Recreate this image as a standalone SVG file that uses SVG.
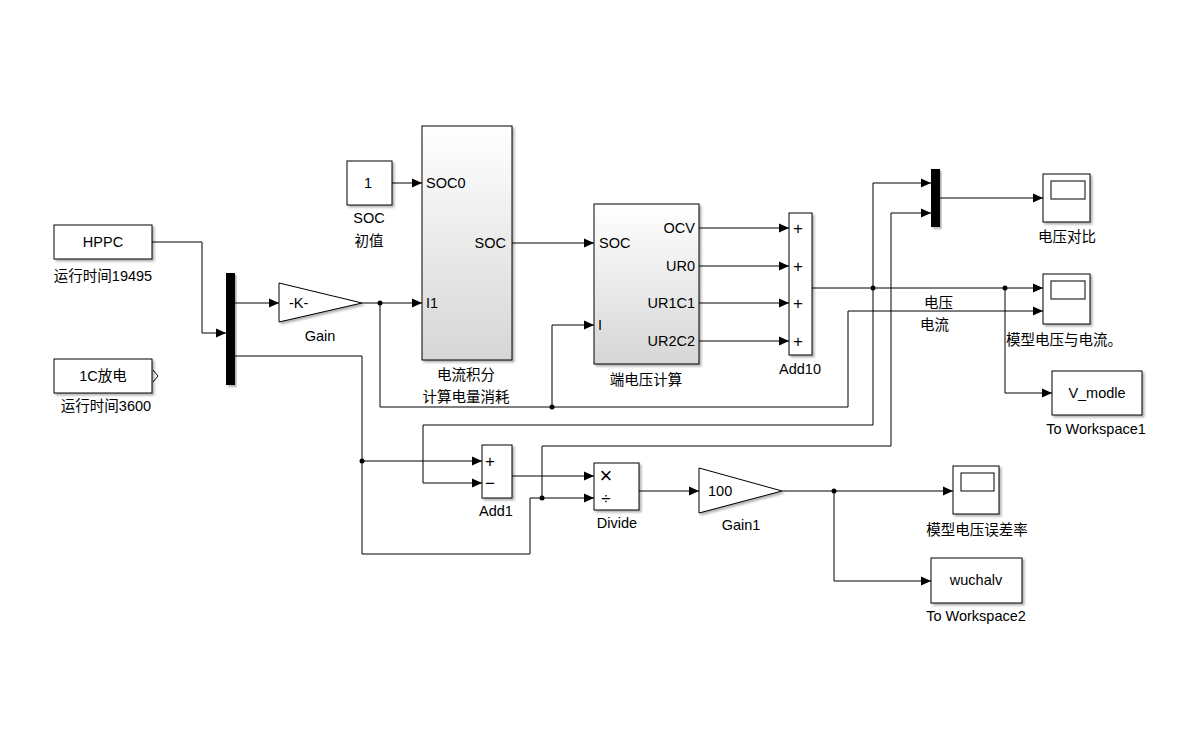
<svg xmlns="http://www.w3.org/2000/svg" width="1187" height="742" viewBox="0 0 1187 742">
<defs>
<marker id="arr" markerUnits="userSpaceOnUse" markerWidth="11" markerHeight="10" refX="10" refY="5" orient="auto">
<path d="M0,0.5 L10,5 L0,9.5 z" fill="#000"/>
</marker>
<linearGradient id="sub" x1="0" y1="0" x2="0" y2="1">
<stop offset="0" stop-color="#ffffff"/>
<stop offset="1" stop-color="#d6d6d6"/>
</linearGradient>
<filter id="sh" x="-10%" y="-10%" width="130%" height="130%">
<feDropShadow dx="2" dy="2" stdDeviation="1" flood-color="#000" flood-opacity="0.3"/>
</filter>
</defs>
<style>
.blk{fill:#fff;stroke:#000;stroke-width:1;filter:url(#sh)}
.sub{fill:url(#sub);stroke:#000;stroke-width:1;filter:url(#sh)}
.bar{fill:#000;filter:url(#sh)}
.w{fill:none;stroke:#000;stroke-width:1}
.a{marker-end:url(#arr)}
.dot{fill:#000}
text{font-family:"Liberation Sans","Noto Sans CJK SC",Arial,sans-serif;font-size:14.5px;fill:#000}
.c{text-anchor:middle}
.r{text-anchor:end}
.sym{font-size:17px}
</style>
<rect width="1187" height="742" fill="#fff"/>

<g id="connectors">
<polyline class="w a" points="152,242 202,242 202,333 226,333"/>
<polyline class="w a" points="235,303 279,303"/>
<polyline class="w" points="235,356 362,356 362,554 530,554 530,498 542,498"/>
<polyline class="w a" points="362,461 482,461"/>
<polyline class="w a" points="542,498 594,498"/>
<polyline class="w a" points="542,498 542,446 891,446 891,213 931,213"/>
<polyline class="w a" points="392,183 422,183"/>
<polyline class="w a" points="362,303 422,303"/>
<polyline class="w a" points="380,303 380,407 848,407 848,311 1043,311"/>
<polyline class="w a" points="552,407 552,325 594,325"/>
<polyline class="w a" points="512,243 594,243"/>
<polyline class="w a" points="699,228 789,228"/>
<polyline class="w a" points="699,266 789,266"/>
<polyline class="w a" points="699,303 789,303"/>
<polyline class="w a" points="699,341 789,341"/>
<polyline class="w a" points="812,288 1043,288"/>
<polyline class="w a" points="873,288 873,183 931,183"/>
<polyline class="w a" points="873,288 873,425 423,425 423,483 482,483"/>
<polyline class="w a" points="1005,288 1005,393 1052,393"/>
<polyline class="w a" points="940,198 1043,198"/>
<polyline class="w a" points="512,476 594,476"/>
<polyline class="w a" points="639,491 699,491"/>
<polyline class="w a" points="782,491 953,491"/>
<polyline class="w a" points="834,491 834,581 931,581"/>
<circle class="dot" cx="362" cy="461" r="2.5"/>
<circle class="dot" cx="542" cy="498" r="2.5"/>
<circle class="dot" cx="380" cy="303" r="2.5"/>
<circle class="dot" cx="552" cy="407" r="2.5"/>
<circle class="dot" cx="873" cy="288" r="2.5"/>
<circle class="dot" cx="1005" cy="288" r="2.5"/>
<circle class="dot" cx="834" cy="491" r="2.5"/>
<text x="924" y="308">电压</text>
<text x="920" y="330">电流</text>
</g>

<g id="hppc">
<rect class="blk" x="54" y="225" width="98" height="34"/>
<text class="c" x="103" y="247">HPPC</text>
<text class="c" x="103" y="281">运行时间19495</text>
</g>

<g id="c1">
<rect class="blk" x="54" y="359" width="98" height="34"/>
<polyline class="w" points="153,370 158,376 153,382" stroke-width="2"/>
<text class="c" x="103" y="381">1C放电</text>
<text class="c" x="106" y="411">运行时间3600</text>
</g>

<g id="mux1">
<rect class="bar" x="226" y="273" width="9" height="112"/>
</g>

<g id="gain">
<polygon class="blk" points="279,283 362,303 279,322"/>
<text x="289" y="308">-K-</text>
<text class="c" x="320" y="341">Gain</text>
</g>

<g id="soc0">
<rect class="blk" x="347" y="161" width="45" height="44"/>
<text class="c" x="368" y="188">1</text>
<text class="c" x="369" y="223">SOC</text>
<text class="c" x="369" y="246">初值</text>
</g>

<g id="integ">
<rect class="sub" x="422" y="126" width="90" height="234"/>
<text x="426" y="188">SOC0</text>
<text x="426" y="308">I1</text>
<text class="r" x="506" y="248">SOC</text>
<text class="c" x="466" y="380">电流积分</text>
<text class="c" x="466" y="402">计算电量消耗</text>
</g>

<g id="term">
<rect class="sub" x="594" y="204" width="105" height="160"/>
<text x="599" y="248">SOC</text>
<text x="598" y="330">I</text>
<text class="r" x="695" y="233">OCV</text>
<text class="r" x="695" y="271">UR0</text>
<text class="r" x="695" y="308">UR1C1</text>
<text class="r" x="695" y="346">UR2C2</text>
<text class="c" x="646" y="385">端电压计算</text>
</g>

<g id="add10">
<rect class="blk" x="789" y="213" width="23" height="142"/>
<text class="c sym" x="798" y="234">+</text>
<text class="c sym" x="798" y="272">+</text>
<text class="c sym" x="798" y="309">+</text>
<text class="c sym" x="798" y="347">+</text>
<text class="c" x="800" y="374">Add10</text>
</g>

<g id="mux2">
<rect class="bar" x="931" y="169" width="9" height="58"/>
</g>

<g id="scope1">
<rect class="blk" x="1043" y="174" width="47" height="48"/>
<rect class="w" x="1051" y="181" width="34" height="18"/>
<text class="c" x="1067" y="242">电压对比</text>
</g>

<g id="scope2">
<rect class="blk" x="1043" y="274" width="47" height="50"/>
<rect class="w" x="1051" y="281" width="34" height="18"/>
<text x="1006" y="345">模型电压与电流。</text>
</g>

<g id="tows1">
<rect class="blk" x="1052" y="371" width="90" height="44"/>
<text class="c" x="1097" y="398">V_modle</text>
<text class="c" x="1096" y="434">To Workspace1</text>
</g>

<g id="add1">
<rect class="blk" x="482" y="445" width="30" height="53"/>
<text class="c sym" x="490" y="467">+</text>
<text class="c sym" x="490" y="489">−</text>
<text class="c" x="496" y="516">Add1</text>
</g>

<g id="divide">
<rect class="blk" x="594" y="463" width="45" height="47"/>
<text class="c" x="606" y="483" style="font-size:22px">×</text>
<text class="c sym" x="606" y="504">÷</text>
<text class="c" x="617" y="528">Divide</text>
</g>

<g id="gain1">
<polygon class="blk" points="699,468 782,491 699,513"/>
<text x="708" y="496">100</text>
<text class="c" x="741" y="530">Gain1</text>
</g>

<g id="scope3">
<rect class="blk" x="953" y="466" width="46" height="48"/>
<rect class="w" x="961" y="473" width="33" height="18"/>
<text class="c" x="977" y="535">模型电压误差率</text>
</g>

<g id="tows2">
<rect class="blk" x="931" y="558" width="91" height="45"/>
<text class="c" x="976" y="585">wuchalv</text>
<text class="c" x="976" y="621">To Workspace2</text>
</g>
</svg>
